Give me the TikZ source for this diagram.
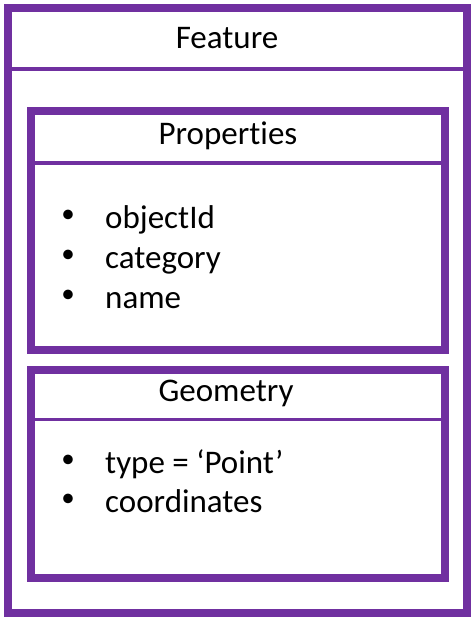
\documentclass[tikz,border=0pt]{standalone}
\usepackage{fontspec}
\setmainfont{Carlito}[Ligatures={NoCommon,NoDiscretionary}]
\definecolor{fpurple}{HTML}{7030A0}
\begin{document}
\begin{tikzpicture}[x=1pt,y=-1pt,
  frame/.style={draw=fpurple, line width=8pt, inner sep=0pt, outer sep=0pt},
  rule/.style={draw=fpurple, line width=3.2pt},
  title/.style={font=\fontsize{33}{40}\selectfont, anchor=base, inner sep=0pt},
  bul/.style={font=\fontsize{27}{32}\selectfont, anchor=center, inner sep=0pt},
  item/.style={font=\fontsize{33}{40}\selectfont, anchor=base west, inner sep=0pt}]
\useasboundingbox (0,0) rectangle (474,620);
% boxes
\node[frame, minimum width=459pt, minimum height=605pt] (feature) at (237.5,310.5) {};
\node[frame, minimum width=414pt, minimum height=239.3pt] (props) at (237.7,230.35) {};
\node[frame, minimum width=414pt, minimum height=207.7pt] (geom) at (237.7,473.85) {};
% header rules
\coordinate (fh) at (0,69);
\coordinate (ph) at (0,163);
\coordinate (gh) at (0,419.7);
\draw[rule] (feature.west |- fh) -- (feature.east |- fh);
\draw[rule] (props.west |- ph) -- (props.east |- ph);
\draw[rule] (geom.west |- gh) -- (geom.east |- gh);
% titles
\node[title] (tfeature) at (227,48.5) {Feature};
\node[title] (tprops) at (228,144.5) {Properties};
\node[title] (tgeom) at (226,401.5) {Geometry};
% property items
\node[bul] (b1) at (68,216) {•};
\node[item] (i1) at (105,228) {objectId};
\node[bul] (b2) at (68,256) {•};
\node[item] (i2) at (105,268) {category};
\node[bul] (b3) at (68,296) {•};
\node[item] (i3) at (105,308) {name};
% geometry items
\node[bul] (b4) at (68,461.5) {•};
\node[item] (i4) at (105,473.5) {type = ‘Point’};
\node[bul] (b5) at (68,500) {•};
\node[item] (i5) at (105,512) {coordinates};
\end{tikzpicture}
\end{document}
